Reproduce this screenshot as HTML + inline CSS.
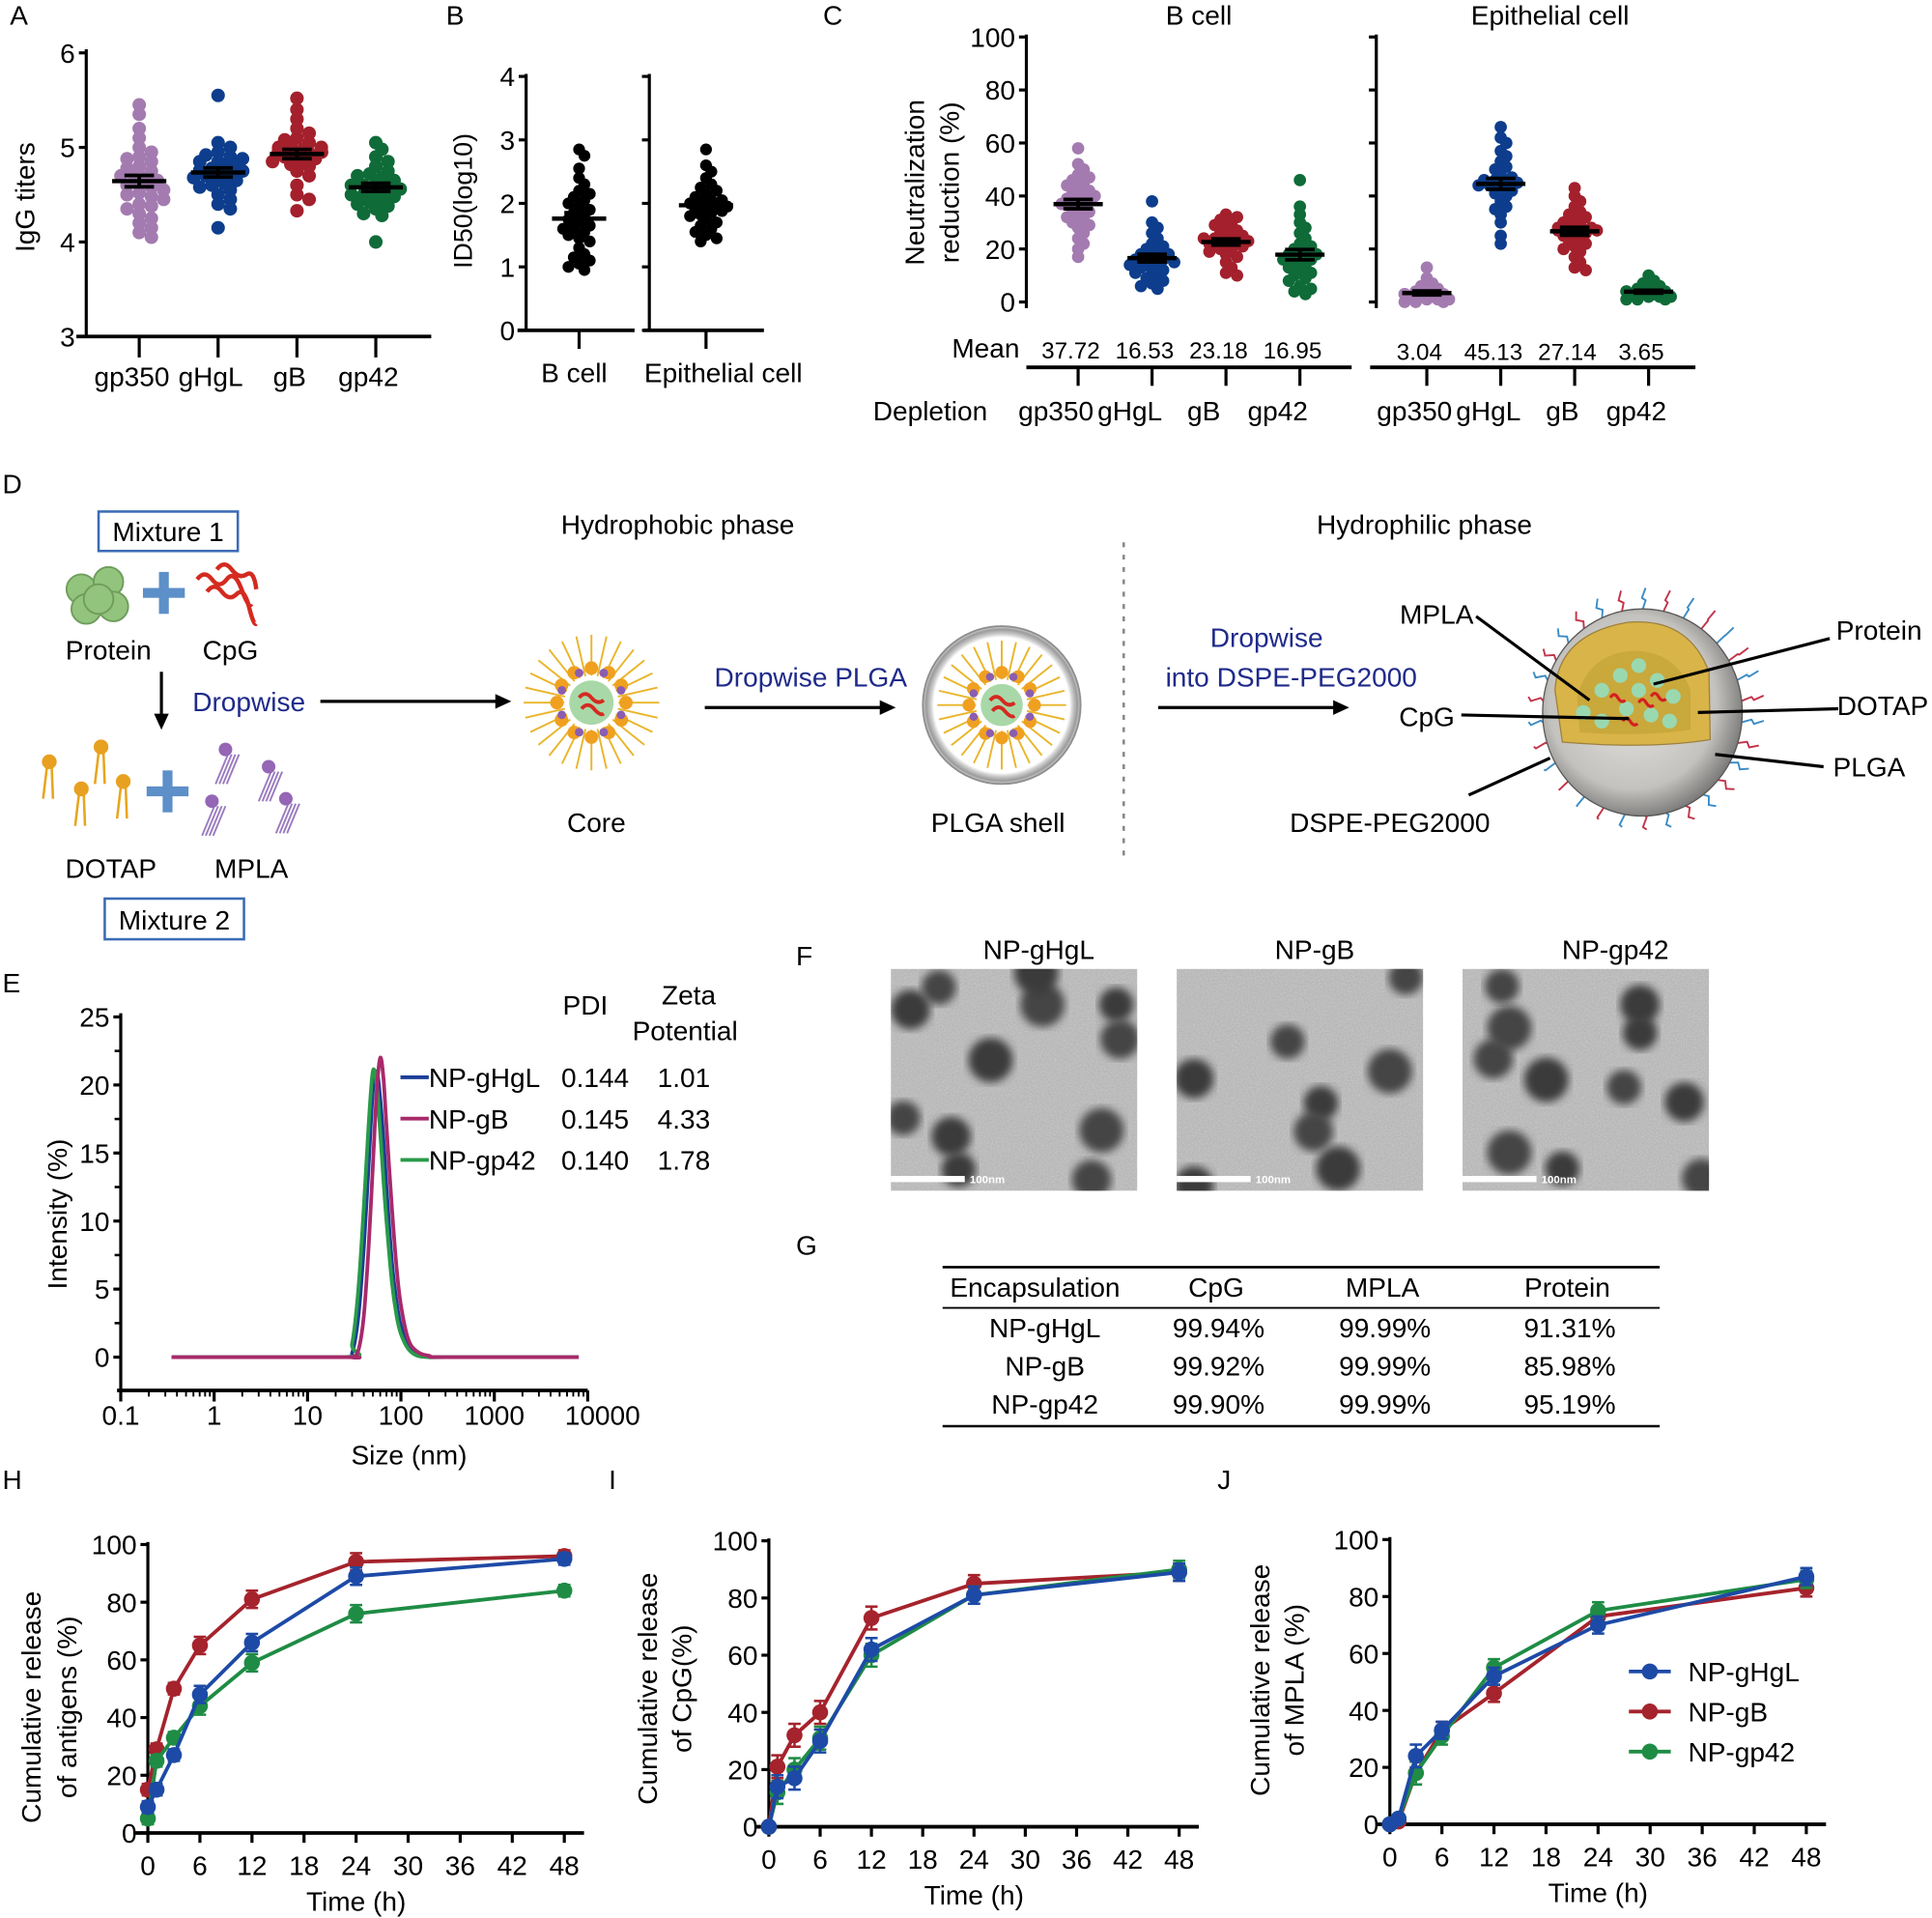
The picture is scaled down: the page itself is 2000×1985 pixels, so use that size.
<!DOCTYPE html>
<html><head><meta charset="utf-8">
<style>
html,body{margin:0;padding:0;background:#fff;}
svg{display:block;font-family:"Liberation Sans",Arial,sans-serif;}
</style></head>
<body>
<svg id="fig" width="2000" height="1985" viewBox="0 0 1568 1556" preserveAspectRatio="none" xmlns="http://www.w3.org/2000/svg">
<defs>
<radialGradient id="sphereG" cx="0.45" cy="0.45" r="0.6"><stop offset="0" stop-color="#e8e6e2"/><stop offset="0.7" stop-color="#c4c2be"/><stop offset="1" stop-color="#6a6a6a"/></radialGradient>
<radialGradient id="shellG" cx="0.5" cy="0.5" r="0.5"><stop offset="0.86" stop-color="#ffffff"/><stop offset="0.9" stop-color="#cfcfcf"/><stop offset="0.96" stop-color="#9a9a9a"/><stop offset="1" stop-color="#d8d8d8"/></radialGradient>
<filter id="blur3"><feGaussianBlur stdDeviation="3.5"/></filter>
<filter id="tem" x="0" y="0" width="1" height="1"><feTurbulence type="fractalNoise" baseFrequency="0.9" numOctaves="2" seed="3"/><feColorMatrix type="matrix" values="0 0 0 0 0.62  0 0 0 0 0.62  0 0 0 0 0.62  0 0 0 -1.2 0.9"/></filter>
</defs>
</svg>
<script>
// ---------------- DATA ----------------
const aCats = ['gp350','gHgL','gB','gp42'];
const aGp350 = [5.45,5.35,5.2,5.1,5.0,4.95,4.9,4.88,4.85,4.8,4.78,4.75,4.72,4.7,4.68,4.65,4.62,4.6,4.58,4.55,4.52,4.5,4.48,4.45,4.4,4.38,4.35,4.3,4.25,4.2,4.15,4.1,4.05];
const aGhgl = [5.55,5.05,5.0,4.95,4.92,4.9,4.88,4.85,4.82,4.8,4.78,4.76,4.75,4.73,4.7,4.7,4.68,4.65,4.62,4.6,4.58,4.55,4.5,4.45,4.4,4.35,4.15,4.85,4.8];
const aGb = [5.52,5.4,5.3,5.2,5.15,5.1,5.08,5.05,5.02,5.0,4.98,4.96,4.95,4.94,4.92,4.9,4.88,4.86,4.85,4.82,4.8,4.75,4.7,4.6,4.5,4.45,4.33,5.0,4.97];
const aGp42 = [5.05,4.98,4.9,4.85,4.8,4.75,4.72,4.7,4.68,4.65,4.62,4.6,4.58,4.56,4.55,4.53,4.5,4.48,4.45,4.42,4.4,4.38,4.35,4.3,4.28,4.0,4.6,4.5];
const aTicks = [3,4,5,6];

const bCats = ['B cell','Epithelial cell'];
const bBcell = [2.85,2.75,2.55,2.4,2.3,2.2,2.15,2.1,2.05,2.0,1.95,1.9,1.85,1.8,1.75,1.7,1.65,1.6,1.55,1.5,1.45,1.4,1.3,1.2,1.15,1.1,1.05,1.0,0.95,1.6];
const bEpi = [2.85,2.6,2.5,2.4,2.3,2.25,2.2,2.15,2.1,2.05,2.0,2.0,1.97,1.95,1.92,1.9,1.88,1.85,1.82,1.8,1.75,1.7,1.65,1.6,1.55,1.5,1.45,1.4,2.05];
const bTicks = [0,1,2,3,4];

const cCats = ['gp350','gHgL','gB','gp42'];
const cMeansB = ['37.72','16.53','23.18','16.95'];
const cMeansE = ['3.04','45.13','27.14','3.65'];
const cBgp350 = [58,52,50,48,47,46,45,44,43,42,41,40,40,39,38,38,37,36,35,34,33,32,31,30,29,28,26,24,22,20,17];
const cBghgl = [38,30,28,26,24,22,21,20,19,18,18,17,16,16,15,15,14,13,12,11,10,9,8,7,6,5,14,12];
const cBgb = [33,32,31,30,29,28,27,26,25,25,24,24,23,23,22,22,21,20,20,19,18,17,15,13,11,10,24,22];
const cBgp42 = [46,36,33,30,28,26,24,22,21,20,19,18,17,16,15,14,13,12,11,10,9,8,6,5,4,3,18,16];
const cEgp350 = [13,9,7,6,5,4,4,3,3,2,2,2,1,1,1,0,0,0,3,2];
const cEghgl = [66,62,60,57,55,53,51,50,48,47,46,45,45,44,43,42,41,40,38,36,35,33,30,25,22,44,46];
const cEgb = [43,40,38,36,34,33,32,31,30,29,28,28,27,27,26,25,24,23,22,21,20,19,17,15,13,12,26,28];
const cEgp42 = [10,8,7,6,5,5,4,4,4,3,3,3,2,2,2,1,1,1,4,3];
const cTicks = [0,20,40,60,80,100];

const eSizes = [0.35,25,30,35,40,45,50,55,60,65,70,80,90,100,120,150,200,300,8000];
const eGhgl = [0,0,0.3,3,8,14,19.5,21,19,16,12.5,7,4,2.3,0.8,0.2,0,0,0];
const eGb = [0,0,0,0.5,3,8,14,19.5,22,20.5,17,11,6.5,3.8,1.3,0.4,0.1,0,0];
const eGp42 = [0,0,1,5,11,17,21,20,16.5,13,10,5.5,3,1.7,0.6,0.1,0,0,0];
const eYTicks = [0,5,10,15,20,25];
const eXTicks = ['0.1','1','10','100','1000','10000'];
const eLegend = ['NP-gHgL','NP-gB','NP-gp42'];
const ePdi = ['0.144','0.145','0.140'];
const eZeta = ['1.01','4.33','1.78'];

const gHeader = ['Encapsulation','CpG','MPLA','Protein'];
const gRows = [['NP-gHgL','99.94%','99.99%','91.31%'],['NP-gB','99.92%','99.99%','85.98%'],['NP-gp42','99.90%','99.99%','95.19%']];

const tTimes = [0,1,3,6,12,24,48];
const tTicks = [0,6,12,18,24,30,36,42,48];
const yTicks = [0,20,40,60,80,100];
const hGhgl = [9,15,27,48,66,89,95];
const hGb = [15,29,50,65,81,94,96];
const hGp42 = [5,25,33,44,59,76,84];
const hErr = [2,2,2,3,3,3,2];
const iGhgl = [0,14,17,30,62,81,89];
const iGb = [0,21,32,40,73,85,89];
const iGp42 = [0,12,20,31,60,81,90];
const iErr = [1,4,4,4,4,3,3];
const jGhgl = [0,2,24,33,52,70,87];
const jGb = [0,1,18,33,46,73,83];
const jGp42 = [0,2,18,31,55,75,86];
const jErr = [1,1,4,3,3,3,3];

// ---------------- HELPERS ----------------
const NS = document.getElementById('fig').namespaceURI;
const root = document.getElementById('fig');
function el(parent, tag, attrs, name) {
  const e = document.createElementNS(NS, tag);
  for (const k in attrs) e.setAttribute(k, attrs[k]);
  
  
  parent.appendChild(e);
  return e;
}
function grp(name, parent) { return el(parent || root, 'g', {}, name); }
function tx(p, x, y, s, size, anchor, name, fill, extra) {
  const a = Object.assign({x:x, y:y, 'font-size':size, 'text-anchor':anchor||'middle', fill:fill||'#000'}, extra||{});
  const t = el(p, 'text', a, name);
  t.textContent = s;
  return t;
}
function line(p, x1, y1, x2, y2, w, name, col) {
  return el(p, 'line', {x1:x1, y1:y1, x2:x2, y2:y2, stroke:col||'#000', 'stroke-width':w}, name);
}
function yAxis(p, x, yTop, yBot, ticks, ys, labels, fs, name) {
  const g = grp(name, p);
  line(g, x, yTop, x, yBot, 2.5, 'axis-line');
  ticks.forEach((v, i) => {
    line(g, x - 6, ys(v), x, ys(v), 2.5, 'tick');
    if (labels) tx(g, x - 9, ys(v) + fs * 0.36, labels[i], fs, 'end', 'tick-label');
  });
  return g;
}
function swarm(values, cx, ys, r, maxW) {
  const placed = [];
  const order = values.map((v, i) => i).sort((a, b) => values[b] - values[a]);
  const res = new Array(values.length);
  order.forEach((i, n) => {
    const y = ys(values[i]);
    let x = null;
    for (let k = 0; k < 20; k++) {
      const off = (k === 0) ? 0 : Math.ceil(k / 2) * r * 0.9 * (k % 2 ? 1 : -1);
      if (Math.abs(off) > maxW) break;
      if (!placed.some(q => Math.hypot(q[0] - (cx + off), q[1] - y) < r * 1.15)) { x = cx + off; break; }
    }
    if (x === null) x = cx + (((n * 7) % 9) - 4) / 4 * maxW;
    placed.push([x, y]);
    res[i] = [x, y];
  });
  return res;
}
function stats(v) {
  const m = v.reduce((a, b) => a + b, 0) / v.length;
  const sd = Math.sqrt(v.reduce((a, b) => a + (b - m) * (b - m), 0) / (v.length - 1));
  return [m, sd / Math.sqrt(v.length)];
}
function dotPlot(p, vals, cx, ys, col, r, name, meanW, maxW) {
  const g = grp(name, p);
  swarm(vals, cx, ys, r, maxW).forEach(pt => {
    el(g, 'circle', {cx:pt[0], cy:pt[1], r:r, fill:col}, 'data-point');
  });
  const s = stats(vals);
  line(g, cx - meanW, ys(s[0]), cx + meanW, ys(s[0]), 3.5, 'mean-line');
  line(g, cx, ys(s[0] - s[1]), cx, ys(s[0] + s[1]), 3, 'sem-bar');
  line(g, cx - 12, ys(s[0] - s[1]), cx + 12, ys(s[0] - s[1]), 3, 'sem-cap');
  line(g, cx - 12, ys(s[0] + s[1]), cx + 12, ys(s[0] + s[1]), 3, 'sem-cap');
}
const PUR = '#a47bb0', BLU = '#0d3d8c', RED = '#a3202c', GRN = '#0f6b38';

// ---------------- PANEL A ----------------
(function(){
  const g = grp('panel-a');
  tx(g, 8, 20, 'A', 22, 'start', 'panel-label');
  const ys = v => 273 - (v - 3) * 76.7;
  yAxis(g, 70, 40, 273, aTicks, ys, aTicks.map(String), 22, 'y-axis');
  line(g, 62, 273, 350, 273, 3, 'x-axis-line');
  const xs = [113, 177, 241, 305];
  const sets = [aGp350, aGhgl, aGb, aGp42], cols = [PUR, BLU, RED, GRN];
  sets.forEach((s, i) => dotPlot(g, s, xs[i], ys, cols[i], 5.5, 'dots-' + aCats[i], 22, 20));
  aCats.forEach((c, i) => { line(g, xs[i], 273, xs[i], 290, 2.5, 'x-tick'); tx(g, xs[i] - 6, 313, c, 22, 'middle', 'x-tick-label'); });
  tx(g, 28, 160, 'IgG titers', 22, 'middle', 'y-axis-title', '#000', {transform:'rotate(-90 28 160)'});
})();

// ---------------- PANEL B ----------------
(function(){
  const g = grp('panel-b');
  tx(g, 362, 20, 'B', 22, 'start', 'panel-label');
  const ys = v => 268 - v * 51.5;
  yAxis(g, 427, 60, 268, bTicks, ys, bTicks.map(String), 22, 'y-axis');
  yAxis(g, 527, 60, 268, bTicks, ys, null, 22, 'y-axis-2');
  line(g, 420, 268, 515, 268, 3, 'x-axis-line');
  line(g, 522, 268, 620, 268, 3, 'x-axis-line-2');
  const xs = [470, 573];
  dotPlot(g, bBcell, xs[0], ys, '#000', 4.8, 'dots-bcell', 22, 20);
  dotPlot(g, bEpi, xs[1], ys, '#000', 4.8, 'dots-epithelial', 22, 20);
  bCats.forEach((c, i) => { line(g, xs[i], 268, xs[i], 283, 2.5, 'x-tick'); tx(g, i ? 587 : 466, 310, c, 22, 'middle', 'x-tick-label'); });
  tx(g, 383, 163, 'ID50(log10)', 21, 'middle', 'y-axis-title', '#000', {transform:'rotate(-90 383 163)'});
})();

// ---------------- PANEL C ----------------
(function(){
  const g = grp('panel-c');
  tx(g, 668, 20, 'C', 22, 'start', 'panel-label');
  const ys = v => 245 - v * 2.15;
  yAxis(g, 833, 28, 250, cTicks, ys, cTicks.map(String), 22, 'y-axis');
  yAxis(g, 1117, 28, 250, cTicks, ys, null, 22, 'y-axis-2');
  tx(g, 973, 20, 'B cell', 22, 'middle', 'group-title');
  tx(g, 1258, 20, 'Epithelial cell', 22, 'middle', 'group-title');
  const xb = [875, 935, 995, 1055], xe = [1158, 1218, 1278, 1338];
  [cBgp350, cBghgl, cBgb, cBgp42].forEach((s, i) => dotPlot(g, s, xb[i], ys, [PUR,BLU,RED,GRN][i], 5, 'dots-bcell-' + cCats[i], 20, 18));
  [cEgp350, cEghgl, cEgb, cEgp42].forEach((s, i) => dotPlot(g, s, xe[i], ys, [PUR,BLU,RED,GRN][i], 5, 'dots-epi-' + cCats[i], 20, 18));
  tx(g, 800, 290, 'Mean', 22, 'middle', 'mean-row-label');
  cMeansB.forEach((m, i) => tx(g, xb[i] - 6, 291, m, 19, 'middle', 'mean-value'));
  cMeansE.forEach((m, i) => tx(g, xe[i] - 6, 292, m, 19, 'middle', 'mean-value'));
  line(g, 833, 298, 1097, 298, 3, 'x-axis-line');
  line(g, 1112, 298, 1376, 298, 3, 'x-axis-line-2');
  xb.concat(xe).forEach(x => line(g, x, 298, x, 313, 2.5, 'x-tick'));
  tx(g, 755, 341, 'Depletion', 22, 'middle', 'depletion-label');
  cCats.forEach((c, i) => { tx(g, xb[i] - 18, 341, c, 22, 'middle', 'x-tick-label'); tx(g, xe[i] - 10, 341, c, 22, 'middle', 'x-tick-label'); });
  tx(g, 750, 148, 'Neutralization', 22, 'middle', 'y-axis-title', '#000', {transform:'rotate(-90 750 148)'});
  tx(g, 778, 148, 'reduction (%)', 22, 'middle', 'y-axis-title', '#000', {transform:'rotate(-90 778 148)'});
})();

// ---------------- PANEL D (schematic) ----------------
(function(){
  const g = grp('panel-d');
  const NAVY = '#1f2a8a';
  tx(g, 2, 400, 'D', 22, 'start', 'panel-label');
  function box(x, y, w, h, s, n) { const b = grp(n, g); el(b, 'rect', {x:x, y:y, width:w, height:h, fill:'#fff', stroke:'#3b6bb5', 'stroke-width':2}, 'box'); tx(b, x + w/2, y + h - 8, s, 22, 'middle', 'box-label'); }
  box(80, 415, 113, 32, 'Mixture 1', 'mixture-1-box');
  box(85, 729, 113, 33, 'Mixture 2', 'mixture-2-box');
  function arrow(x1, y1, x2, y2, n) {
    const a = grp(n, g);
    line(a, x1, y1, x2 - (x2 > x1 ? 10 : 0), y2 - (y2 > y1 ? 10 : 0), 2.5, 'arrow-shaft');
    if (x2 > x1) el(a, 'polygon', {points:`${x2},${y2} ${x2-13},${y2-6} ${x2-13},${y2+6}`, fill:'#000'}, 'arrow-head');
    else el(a, 'polygon', {points:`${x2},${y2} ${x2-6},${y2-13} ${x2+6},${y2-13}`, fill:'#000'}, 'arrow-head');
  }
  const pr = grp('protein-icon', g);
  [[66,478],[88,472],[70,494],[92,492],[80,486]].forEach(c => el(pr, 'circle', {cx:c[0], cy:c[1], r:12, fill:'#93c47d', stroke:'#6f9d5c', 'stroke-width':1.5}, 'protein-blob'));
  function plus(x, y, n) { const p = grp(n, g); el(p, 'rect', {x:x-17, y:y-4, width:34, height:8, fill:'#5d8fc8'}, 'plus-h'); el(p, 'rect', {x:x-4, y:y-17, width:8, height:34, fill:'#5d8fc8'}, 'plus-v'); }
  plus(133, 481, 'plus-1'); plus(136, 642, 'plus-2');
  const cpg = grp('cpg-icon', g);
  ['M160 470 q6 -8 12 0 t12 0 t12 8 t8 12', 'M168 480 q6 -8 12 0 t12 2 t10 10 t6 14', 'M176 462 q6 -8 12 0 t12 4 t8 12'].forEach(d => el(cpg, 'path', {d:d, fill:'none', stroke:'#d42a20', 'stroke-width':3.5}, 'cpg-strand'));
  tx(g, 88, 535, 'Protein', 22, 'middle', 'protein-label');
  tx(g, 187, 535, 'CpG', 22, 'middle', 'cpg-label');
  arrow(131, 545, 131, 592, 'down-arrow');
  tx(g, 202, 577, 'Dropwise', 22, 'middle', 'dropwise-label', NAVY);
  arrow(260, 569, 415, 569, 'arrow-to-core');
  const dt = grp('dotap-icon', g);
  [[40,618],[82,606],[66,640],[100,634]].forEach(c => { line(dt, c[0]-2, c[1]+5, c[0]-5, c[1]+30, 2, 'dotap-tail', '#e8a51e'); line(dt, c[0]+2, c[1]+5, c[0]+3, c[1]+30, 2, 'dotap-tail', '#e8a51e'); el(dt, 'circle', {cx:c[0], cy:c[1], r:6, fill:'#e8a020'}, 'dotap-head'); });
  const mp = grp('mpla-icon', g);
  [[183,608],[218,622],[172,650],[232,648]].forEach(c => { for (let k=0;k<4;k++) line(mp, c[0]+2+k*3, c[1]+4, c[0]-8+k*3, c[1]+28, 1.5, 'mpla-tail', '#9b7bbf'); el(mp, 'circle', {cx:c[0], cy:c[1], r:5.5, fill:'#9466b5'}, 'mpla-head'); });
  tx(g, 90, 712, 'DOTAP', 22, 'middle', 'dotap-label');
  tx(g, 204, 712, 'MPLA', 22, 'middle', 'mpla-label');
  tx(g, 550, 433, 'Hydrophobic phase', 22, 'middle', 'hydrophobic-title');
  tx(g, 1156, 433, 'Hydrophilic phase', 22, 'middle', 'hydrophilic-title');
  function core(p, cx, cy, s) {
    const c = grp('core-particle', p);
    for (let k = 0; k < 28; k++) { const a = k / 28 * Math.PI * 2; line(c, cx + Math.cos(a)*22*s, cy + Math.sin(a)*22*s, cx + Math.cos(a)*55*s, cy + Math.sin(a)*55*s, 1.5, 'lipid-tail', '#e9b52a'); }
    el(c, 'circle', {cx:cx, cy:cy, r:18*s, fill:'#a9d8a8'}, 'core-protein');
    el(c, 'path', {d:`M${cx-10*s} ${cy-4*s} q5 -6 10 0 t10 2 M${cx-8*s} ${cy+5*s} q5 -6 10 0 t8 4`, fill:'none', stroke:'#d42a20', 'stroke-width':3}, 'core-cpg');
    for (let k = 0; k < 12; k++) { const a = k / 12 * Math.PI * 2; el(c, 'circle', {cx:cx + Math.cos(a)*28*s, cy:cy + Math.sin(a)*28*s, r:5.5*s, fill:'#f0a020'}, 'dotap-head'); }
    for (let k = 0; k < 8; k++) { const a = (k + 0.5) / 8 * Math.PI * 2; el(c, 'circle', {cx:cx + Math.cos(a)*26*s, cy:cy + Math.sin(a)*26*s, r:3.5*s, fill:'#8a5db0'}, 'mpla-head'); }
  }
  core(g, 480, 570, 1);
  tx(g, 484, 675, 'Core', 22, 'middle', 'core-label');
  arrow(572, 574, 727, 574, 'arrow-to-shell');
  tx(g, 658, 557, 'Dropwise PLGA', 22, 'middle', 'dropwise-plga-label', NAVY);
  el(g, 'circle', {cx:813, cy:572, r:64, fill:'url(#shellG)', stroke:'#8f8f8f', 'stroke-width':1.5}, 'plga-shell');
  core(g, 813, 572, 0.95);
  tx(g, 810, 675, 'PLGA shell', 22, 'middle', 'plga-shell-label');
  el(g, 'line', {x1:912, y1:440, x2:912, y2:700, stroke:'#888', 'stroke-width':2, 'stroke-dasharray':'4 6'}, 'phase-divider');
  tx(g, 1028, 525, 'Dropwise', 22, 'middle', 'dropwise-dspe-label', NAVY);
  tx(g, 1048, 557, 'into DSPE-PEG2000', 22, 'middle', 'dropwise-dspe-label-2', NAVY);
  arrow(940, 574, 1095, 574, 'arrow-to-np');
  const np = grp('nanoparticle', g);
  for (let k = 0; k < 30; k++) { const a = k / 30 * Math.PI * 2 + 0.1; const c = k % 2 ? '#c2344a' : '#3c8cc4';
    el(np, 'path', {d:`M${1333+Math.cos(a)*80} ${578+Math.sin(a)*82} l${Math.cos(a)*6+3} ${Math.sin(a)*6-3} l${Math.cos(a)*5-3} ${Math.sin(a)*5+3} l${Math.cos(a)*5+3} ${Math.sin(a)*5-3}`, fill:'none', stroke:c, 'stroke-width':1.5}, 'peg-strand'); }
  el(np, 'ellipse', {cx:1333, cy:578, rx:81, ry:84, fill:'url(#sphereG)', stroke:'#555', 'stroke-width':1}, 'plga-sphere');
  el(np, 'path', {d:'M1262 560 Q1265 515 1320 505 Q1370 500 1387 545 L1388 600 Q1340 608 1268 602 Z', fill:'#d9b448', stroke:'#9c8040', 'stroke-width':1}, 'cutaway-core');
  el(np, 'path', {d:'M1280 565 Q1290 530 1325 528 Q1360 528 1372 560 L1372 592 Q1330 598 1282 594 Z', fill:'#c9a83c'}, 'cutaway-inner');
  [[1300,560],[1315,548],[1330,540],[1345,552],[1358,565],[1320,575],[1340,580],[1300,585],[1355,585],[1285,578],[1330,560]].forEach(c => el(np, 'circle', {cx:c[0], cy:c[1], r:6, fill:'#9ad8b0'}, 'protein-bead'));
  [[1312,566],[1335,570],[1322,585],[1345,565]].forEach(c => el(np, 'path', {d:`M${c[0]-5} ${c[1]} q3 -5 6 0 t6 2`, fill:'none', stroke:'#d42020', 'stroke-width':2.5}, 'cpg-bead'));
  function lbl(x1, y1, x2, y2, tx_, ty, s, anc, n) { const l = grp(n, g); line(l, x1, y1, x2, y2, 2.5, 'leader-line'); tx(l, tx_, ty, s, 22, anc, 'callout-label'); }
  lbl(1198, 500, 1290, 568, 1166, 506, 'MPLA', 'middle', 'mpla-callout');
  lbl(1186, 580, 1322, 583, 1158, 589, 'CpG', 'middle', 'cpg-callout');
  lbl(1192, 645, 1258, 615, 1128, 675, 'DSPE-PEG2000', 'middle', 'dspe-callout');
  lbl(1485, 518, 1342, 555, 1525, 519, 'Protein', 'middle', 'protein-callout');
  lbl(1492, 575, 1378, 578, 1528, 580, 'DOTAP', 'middle', 'dotap-callout');
  lbl(1480, 622, 1392, 612, 1517, 630, 'PLGA', 'middle', 'plga-callout');
})();

// ---------------- PANEL E ----------------
(function(){
  const g = grp('panel-e');
  tx(g, 2, 805, 'E', 22, 'start', 'panel-label');
  const ys = v => 1101 - v * 11.04;
  const xs = s => 98 + (Math.log10(s) + 1) * 75.8;
  yAxis(g, 98, 822, 1129, eYTicks, ys, eYTicks.map(String), 22, 'y-axis');
  for (let v = 2.5; v < 25; v += 5) line(g, 93, ys(v), 98, ys(v), 2, 'minor-tick');
  line(g, 95, 1128, 477, 1128, 3, 'x-axis-line');
  eXTicks.forEach((t, i) => { const x = xs(parseFloat(t)); line(g, x, 1128, x, 1137, 2.5, 'x-tick'); tx(g, i === 5 ? x + 12 : x, 1156, t, 22, 'middle', 'x-tick-label'); });
  for (let d = -1; d < 4; d++) for (let m = 2; m < 10; m++) line(g, xs(m * Math.pow(10, d)), 1128, xs(m * Math.pow(10, d)), 1133, 1.5, 'minor-tick');
  function smooth(pts) {
    let d = `M${pts[0][0]} ${pts[0][1]}`;
    for (let i = 0; i < pts.length - 1; i++) {
      const p0 = pts[Math.max(0, i-1)], p1 = pts[i], p2 = pts[i+1], p3 = pts[Math.min(pts.length-1, i+2)];
      const c1 = [p1[0] + (p2[0]-p0[0])/6, p1[1] + (p2[1]-p0[1])/6], c2 = [p2[0] - (p3[0]-p1[0])/6, p2[1] - (p3[1]-p1[1])/6];
      if (i === 0 || i === pts.length - 2) d += ` L${p2[0]} ${p2[1]}`; else d += ` C${c1[0]} ${c1[1]} ${c2[0]} ${c2[1]} ${p2[0]} ${p2[1]}`;
    }
    return d;
  }
  const cols = ['#1a3f96', '#a82a6a', '#2a9a4a'];
  [eGhgl, eGp42, eGb].forEach((s, j) => {
    const idx = [0, 2, 1][j];
    el(g, 'path', {d:smooth(eSizes.map((z, i) => [xs(z), ys(s[i])])), fill:'none', stroke:cols[idx], 'stroke-width':3}, 'dls-curve-' + eLegend[idx]);
  });
  tx(g, 475, 823, 'PDI', 22, 'middle', 'pdi-header');
  tx(g, 559, 815, 'Zeta', 22, 'middle', 'zeta-header');
  tx(g, 556, 844, 'Potential', 22, 'middle', 'zeta-header-2');
  eLegend.forEach((n, i) => {
    const y = 874 + i * 33.5;
    const l = grp('legend-entry-' + n, g);
    line(l, 325, y, 348, y, 3, 'legend-swatch', cols[i]);
    tx(l, 348, y + 8, n, 22, 'start', 'legend-label');
    tx(l, 483, y + 8, ePdi[i], 22, 'middle', 'pdi-value');
    tx(l, 555, y + 8, eZeta[i], 22, 'middle', 'zeta-value');
  });
  tx(g, 54, 985, 'Intensity (%)', 22, 'middle', 'y-axis-title', '#000', {transform:'rotate(-90 54 985)'});
  tx(g, 332, 1188, 'Size (nm)', 22, 'middle', 'x-axis-title');
})();

// ---------------- PANEL F ----------------
(function(){
  const g = grp('panel-f');
  tx(g, 646, 783, 'F', 22, 'start', 'panel-label');
  const imgs = [
    {x:723, t:'NP-gHgL', tx:843, b:[[762,801],[739,819],[846,815],[906,815],[909,843],[804,860],[733,907],[772,922],[894,917],[778,949],[886,957],[841,789]]},
    {x:955, t:'NP-gB', tx:1067, b:[[1045,845],[969,875],[1128,869],[1072,895],[1066,918],[1086,948],[1141,793],[969,962]]},
    {x:1187, t:'NP-gp42', tx:1311, b:[[1219,800],[1331,815],[1225,834],[1331,838],[1212,859],[1255,876],[1318,882],[1367,894],[1225,935],[1268,948],[1381,956]]}];
  imgs.forEach((im, k) => {
    const ig = grp('tem-image-' + im.t, g);
    tx(ig, im.tx, 778, im.t, 22, 'middle', 'tem-title');
    const cp = el(ig, 'clipPath', {id:'clip' + k}, 'clip');
    el(cp, 'rect', {x:im.x, y:786, width:200, height:180}, 'clip-rect');
    const inner = el(ig, 'g', {'clip-path':'url(#clip' + k + ')'}, 'tem-content');
    el(inner, 'rect', {x:im.x, y:786, width:200, height:180, fill:'#b4b4b4'}, 'tem-background');
    el(inner, 'rect', {x:im.x, y:786, width:200, height:180, filter:'url(#tem)'}, 'tem-noise');
    im.b.forEach((c, j) => el(inner, 'circle', {cx:c[0], cy:c[1], r:14 + (j % 3) * 2, fill:j % 2 ? '#3a3a3a' : '#444', filter:'url(#blur3)'}, 'nanoparticle-blob'));
    el(ig, 'rect', {x:im.x, y:954, width:60, height:5, fill:'#fff'}, 'scale-bar');
    tx(ig, im.x + 64, 960, '100nm', 9, 'start', 'scale-bar-label', '#fff', {'font-weight':'bold'});
  });
})();

// ---------------- PANEL G ----------------
(function(){
  const g = grp('panel-g');
  tx(g, 646, 1018, 'G', 22, 'start', 'panel-label');
  line(g, 765, 1028, 1347, 1028, 2, 'table-top-rule');
  line(g, 765, 1061, 1347, 1061, 1.5, 'table-header-rule');
  line(g, 765, 1157, 1347, 1157, 2, 'table-bottom-rule');
  const cx = [840, 987, 1122, 1272];
  gHeader.forEach((h, i) => tx(g, cx[i], 1052, h, 22, 'middle', 'table-header'));
  gRows.forEach((r, j) => r.forEach((c, i) => tx(g, i ? cx[i] + 2 : 848, 1085 + j * 31, c, 22, 'middle', 'table-cell')));
})();

// ---------------- PANELS H, I, J ----------------
function releaseChart(cfg) {
  const g = grp(cfg.name);
  tx(g, cfg.lx, 1208, cfg.letter, 22, 'start', 'panel-label');
  const ys = v => cfg.y0 - v * (cfg.y0 - cfg.y100) / 100;
  const xs = t => cfg.x0 + t * (cfg.x48 - cfg.x0) / 48;
  yAxis(g, cfg.x0, cfg.y100 - 2, cfg.y0, yTicks, ys, yTicks.map(String), 22, 'y-axis');
  line(g, cfg.x0 - 10, cfg.y0, cfg.x48 + 16, cfg.y0, 3, 'x-axis-line');
  tTicks.forEach(t => { line(g, xs(t), cfg.y0, xs(t), cfg.y0 + 8, 2.5, 'x-tick'); tx(g, xs(t), cfg.y0 + 34, String(t), 22, 'middle', 'x-tick-label'); });
  const cols = ['#1d4aa6', '#a5232c', '#1f8c45'], names = ['NP-gHgL','NP-gB','NP-gp42'];
  [[cfg.s[1],1],[cfg.s[2],2],[cfg.s[0],0]].forEach(pair => {
    const s = pair[0], k = pair[1];
    const sg = grp('series-' + names[k], g);
    el(sg, 'polyline', {points:tTimes.map((t, i) => xs(t) + ',' + ys(s[i])).join(' '), fill:'none', stroke:cols[k], 'stroke-width':3}, 'series-line');
    tTimes.forEach((t, i) => {
      const e = cfg.err[i];
      line(sg, xs(t), ys(s[i] - e), xs(t), ys(s[i] + e), 2, 'error-bar', cols[k]);
      line(sg, xs(t) - 5, ys(s[i] + e), xs(t) + 5, ys(s[i] + e), 2, 'error-cap', cols[k]);
      line(sg, xs(t) - 5, ys(s[i] - e), xs(t) + 5, ys(s[i] - e), 2, 'error-cap', cols[k]);
      el(sg, 'circle', {cx:xs(t), cy:ys(s[i]), r:6.5, fill:cols[k]}, 'data-point');
    });
  });
  tx(g, (cfg.x0 + cfg.x48) / 2, cfg.y0 + 63, 'Time (h)', 22, 'middle', 'x-axis-title');
  tx(g, cfg.t1x, cfg.ty, 'Cumulative release', 22, 'middle', 'y-axis-title', '#000', {transform:`rotate(-90 ${cfg.t1x} ${cfg.ty})`});
  tx(g, cfg.t2x, cfg.ty, cfg.t2, 22, 'middle', 'y-axis-title-2', '#000', {transform:`rotate(-90 ${cfg.t2x} ${cfg.ty})`});
  if (cfg.legend) names.forEach((n, i) => {
    const y = 1356 + i * 32.5;
    const l = grp('legend-entry-' + n, g);
    line(l, 1322, y, 1356, y, 3, 'legend-swatch', cols[i]);
    el(l, 'circle', {cx:1339, cy:y, r:6.5, fill:cols[i]}, 'legend-marker');
    tx(l, 1370, y + 8, n, 22, 'start', 'legend-label');
  });
}
releaseChart({name:'panel-h', letter:'H', lx:2, x0:120, x48:458, y0:1487, y100:1253, s:[hGhgl,hGb,hGp42], err:hErr, t1x:33, t2x:62, ty:1385, t2:'of antigens (%)'});
releaseChart({name:'panel-i', letter:'I', lx:494, x0:624, x48:957, y0:1482, y100:1250, s:[iGhgl,iGb,iGp42], err:iErr, t1x:533, t2x:561, ty:1370, t2:'of CpG(%)'});
releaseChart({name:'panel-j', letter:'J', lx:988, x0:1128, x48:1466, y0:1480, y100:1249, s:[jGhgl,jGb,jGp42], err:jErr, t1x:1030, t2x:1058, ty:1363, t2:'of MPLA (%)', legend:true});
</script>
</body></html>
